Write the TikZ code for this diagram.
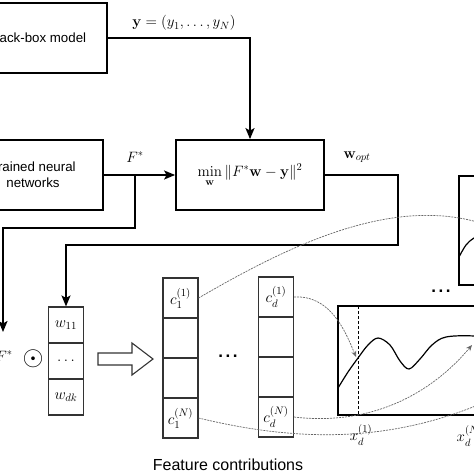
\RequirePackage{fix-cm}
\documentclass[tikz,border=0pt]{standalone}
\usepackage[no-math]{fontspec}
\setmainfont{Liberation Sans}
\usepackage{amsmath}
\usetikzlibrary{arrows.meta}
\begin{document}
\begin{tikzpicture}[x=1pt,y=-1pt,
  mainbox/.style={draw, line width=1.8pt, minimum width=140pt, minimum height=70pt, align=center, inner sep=0pt, font=\fontsize{13.3}{16}\selectfont},
  cell/.style={draw=black!80, line width=1.1pt, minimum width=35pt, minimum height=40pt, inner sep=0pt, font=\fontsize{15.5}{18}\selectfont},
  wcell/.style={cell, minimum height=36pt},
  lab/.style={inner sep=1pt, font=\fontsize{15}{18}\selectfont},
  main/.style={line width=1.8pt},
  arr/.style={-{Stealth[length=11pt,width=9pt,inset=2.5pt]}},
  sarr/.style={-{Stealth[length=6pt,width=5pt]}},
  dotline/.style={draw=black!60, line width=0.7pt, dash pattern=on 2pt off 1pt},
  plotline/.style={line width=1.2pt},
  dotsnode/.style={inner sep=0pt, font=\fontsize{17}{17}\selectfont\bfseries}]
\useasboundingbox (0,0) rectangle (474,474);
\clip (0,0) rectangle (474,474);

% top boxes
\node[mainbox] (bb) at (37,38) {Black-box model};
\node[mainbox] (tn) at (33,175) {Trained neural\\networks};
\node[mainbox, minimum width=148pt, font=\fontsize{15}{18}\selectfont] (mn) at (250,175) {$\displaystyle\min_{\mathbf w}\|F^*\mathbf w-\mathbf y\|^2$};

% labels
\node[lab] (ylab) at (184,23) {$\mathbf y=(y_1,\ldots,y_N)$};
\node[lab] (Flab) at (135,157) {$F^*$};
\node[lab] (wlab) at (357,157) {$\mathbf w_{opt}$};

% connectors
\draw[main, arr] (bb.east) -| (mn.north);
\draw[main, arr] (tn.east) -- (mn.west);
\coordinate (j) at (135,175);
\coordinate (jl) at (3,228);
\coordinate (ft) at (3,332);
\draw[main, arr] (j) |- (jl) -- (ft);
\coordinate (wr) at (398,175);
\coordinate (wb) at (398,245);

% weight vector
\node[wcell] (w1) at (66,325) {$w_{11}$};
\node[wcell] (w2) at (66,361) {$\ldots$};
\node[wcell] (w3) at (66,397) {$w_{dk}$};
\draw[main, arr] (mn.east) -- (wr) -- (wb) -| (w1.north);

% F* odot
\node[lab] (Fl) at (4,356) {$F^*$};
\node[inner sep=0pt, font=\fontsize{27}{27}\selectfont] (od) at (33,359) {$\odot$};

% hollow arrow
\draw[draw=black!80, line width=1.1pt] (98,353) -- (132,353) -- (132,343) -- (153,359) -- (132,375) -- (132,365) -- (98,365) -- cycle;

% c_1 column
\node[cell] (c11) at (180.5,298) {$c_1^{(1)}$};
\node[cell] (c12) at (180.5,338) {};
\node[cell] (c13) at (180.5,378) {};
\node[cell] (c1N) at (180.5,418) {\raisebox{-4pt}{$c_1^{(N)}$}};
% c_d column
\node[cell] (cd1) at (276,297) {$c_d^{(1)}$};
\node[cell] (cd2) at (276,337) {};
\node[cell] (cd3) at (276,377) {};
\node[cell] (cdN) at (276,417) {\raisebox{-4pt}{$c_d^{(N)}$}};

\node[dotsnode] (dd1) at (228,356) {.\hspace{2.5pt}.\hspace{2.5pt}.};
\node[dotsnode] (dd2) at (441,291) {.\hspace{2.5pt}.\hspace{2.5pt}.};

\node[inner sep=0pt, font=\fontsize{16}{19}\selectfont] (fc) at (228,465) {Feature contributions};

% plots
\draw[plotline] (338,306) rectangle (560,415);
\draw[line width=1pt, dash pattern=on 3pt off 2pt] (358,306) -- (358,415);
\draw[plotline] plot[smooth, tension=0.55] coordinates {(338,388) (348,372) (358,358) (368,345) (378,338) (390,345) (400,361) (409,369) (420,359) (432,345) (446,337) (475,336) (520,340)};
\draw[plotline] (459,176) rectangle (560,285);
\draw[plotline] plot[smooth, tension=0.55] coordinates {(459,257) (466,245) (474,238) (490,229)};

\node[lab] (x1) at (361,435) {$x_d^{(1)}$};
\node[lab] (xN) at (470,436) {$x_d^{(N)}$};

% dotted connectors
\coordinate (p1) at (495,228);
\coordinate (p2) at (356,357);
\coordinate (p3) at (472,345);
\coordinate (p4) at (520,385);
\draw[dotline] (c11.east) .. controls (290,245) and (400,190) .. (p1);
\draw[dotline, sarr] (cd1.east) .. controls (330,295) and (345,330) .. (p2);
\draw[dotline, sarr] (cdN.east) .. controls (370,426) and (430,395) .. (p3);
\draw[dotline] (c1N.east) .. controls (290,440) and (400,450) .. (p4);
\end{tikzpicture}
\end{document}
